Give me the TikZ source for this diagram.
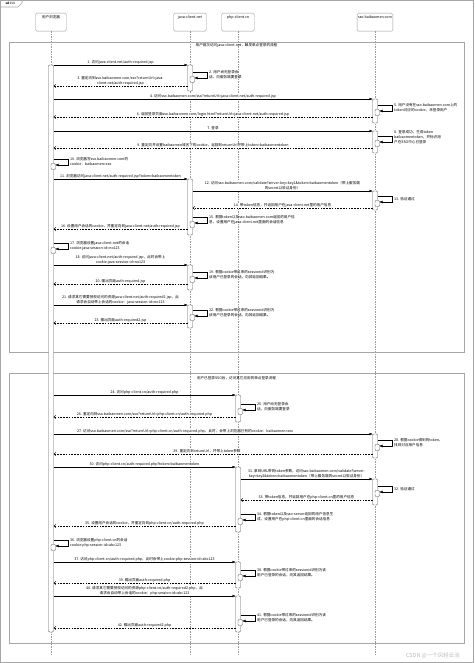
\documentclass[tikz,border=0pt]{standalone}
\usepackage{fontspec}
\setmainfont{Noto Sans CJK SC}
\usepackage{xcolor}
\usepackage{tikz}
\usetikzlibrary{arrows.meta}

\begin{document}
\begin{tikzpicture}[x=1pt, y=-1pt, font=\fontsize{3.6}{5}\selectfont,
  head/.style={draw=gray!80, rounded corners=1.5pt, fill=white, anchor=north, minimum height=18pt, text height=3pt, text depth=11pt, inner ysep=2pt, inner xsep=1pt},
  life/.style={gray!80, line width=0.4pt, dash pattern=on 1.5pt off 1pt},
  marco/.style={draw=gray!70, line width=0.6pt},
  bar/.style={draw=gray!75!black, fill=white, rounded corners=1pt, line width=0.4pt},
  msg/.style={-{Triangle[length=3pt, width=2.4pt]}, line width=0.45pt},
  ret/.style={-{Straight Barb[length=2pt, width=3.2pt]}, line width=0.45pt, dash pattern=on 1.6pt off 1.2pt},
  lbl/.style={midway, anchor=south, fill=white, inner sep=0.5pt, align=center},
  note/.style={pos=0.25, anchor=west, xshift=2pt, inner sep=0pt, align=left}]
\useasboundingbox (0,0) rectangle (474,663);
% diagram frame
\draw[marco] (0.3,0.3) rectangle (473.7,662.7);
\draw[marco] (0,7) -- (18,7) -- (22,3) -- (22,0);
\node[font=\fontsize{3}{4}\selectfont] (sd) at (10.5,3.6) {\textbf{sd} SSO};
% participants
\node[head, minimum width=31pt] (nav) at (51,13) {用户浏览器};
\node[head, minimum width=33pt] (java) at (190,13) {java-client.net};
\node[head, minimum width=33pt] (php) at (238,13) {php-client.cn};
\node[head, minimum width=31pt] (sso) at (375,13) {sso.baibaomen.com};
\coordinate (navend) at (51,655); \coordinate (javaend) at (190,655);
\coordinate (phpend) at (238,655); \coordinate (ssoend) at (375,655);
\draw[life] (nav) -- (navend); \draw[life] (java) -- (javaend);
\draw[life] (php) -- (phpend); \draw[life] (sso) -- (ssoend);
% fragments
\draw[marco] (9,42) rectangle (464,352);
\node (f1) at (236.5,45.5) {用户首次访问java-client.net，触发单点登录的流程};
\draw[marco] (9,373) rectangle (464,643);
\node (f2) at (236.5,378.5) {用户已登录SSO后，访问其它应用的单点登录流程};
% activations
\draw[bar] (48.5,65) rectangle (53.5,632);
\draw[bar] (187.5,65) rectangle (192.5,91);
\draw[bar] (187.5,179) rectangle (192.5,235);
\draw[bar] (187.5,265) rectangle (192.5,290);
\draw[bar] (187.5,305) rectangle (192.5,328);
\draw[bar] (372.5,99) rectangle (377.5,123);
\draw[bar] (372.5,131) rectangle (377.5,153);
\draw[bar] (372.5,191) rectangle (377.5,210);
\draw[bar] (235.5,395) rectangle (240.5,422);
\draw[bar] (372.5,434) rectangle (377.5,458);
\draw[bar] (235.5,467) rectangle (240.5,532);
\draw[bar] (372.5,479) rectangle (377.5,505);
\draw[bar] (235.5,562) rectangle (240.5,588);
\draw[bar] (235.5,596) rectangle (240.5,632);
% nested activations of self calls
\draw[bar] (190,76.5) rectangle (194.5,82.5);
\draw[bar] (375,109.5) rectangle (379.5,115.5);
\draw[bar] (375,140.5) rectangle (379.5,146.5);
\draw[bar] (51,163.5) rectangle (55.5,169.5);
\draw[bar] (375,200.5) rectangle (379.5,206.5);
\draw[bar] (190,221.5) rectangle (194.5,227.5);
\draw[bar] (51,247.5) rectangle (55.5,253.5);
\draw[bar] (190,276.5) rectangle (194.5,282.5);
\draw[bar] (190,314.5) rectangle (194.5,320.5);
\draw[bar] (238,408.5) rectangle (242.5,414.5);
\draw[bar] (375,444.5) rectangle (379.5,450.5);
\draw[bar] (375,490.5) rectangle (379.5,496.5);
\draw[bar] (238,518.5) rectangle (242.5,524.5);
\draw[bar] (51,544.5) rectangle (55.5,550.5);
\draw[bar] (238,574.5) rectangle (242.5,580.5);
\draw[bar] (238,619.5) rectangle (242.5,625.5);

% first visit: java-client.net
\coordinate (s1) at (53.5,65); \coordinate (t1) at (187.5,65);
\draw[msg] (s1) -- node[lbl]{1. 访问java-client.net/auth-required.jsp} (t1);
\coordinate (s2) at (192.5,72); \coordinate (t2) at (194.5,78);
\draw[msg] (s2) -- ++(14.5,0) |- node[note]{2. 用户尚无登录会\\话，向服务端要登录} (t2);
\coordinate (s3) at (187.5,86); \coordinate (t3) at (53.5,86);
\draw[ret] (s3) -- node[lbl]{3. 重定向到sso.baibaomen.com/sso?returnUrl=java-\\client.net/auth-required.jsp} (t3);
\coordinate (s4) at (53.5,99); \coordinate (t4) at (372.5,99);
\draw[msg] (s4) -- node[lbl]{4. 访问sso.baibaomen.com/sso?returnUrl=java-client.net/auth-required.jsp} (t4);
\coordinate (s5) at (377.5,105); \coordinate (t5) at (379.5,111);
\draw[msg] (s5) -- ++(14.5,0) |- node[note]{5. 用户没有在sso.baibaomen.com上的\\token对应的cookie，未登录用户} (t5);
\coordinate (s6) at (372.5,117); \coordinate (t6) at (53.5,117);
\draw[ret] (s6) -- node[lbl]{6. 返回登录页面sso.baibaomen.com/login.html?returnUrl=java-client.net/auth-required.jsp} (t6);
\coordinate (s7) at (53.5,131); \coordinate (t7) at (372.5,131);
\draw[msg] (s7) -- node[lbl]{7. 登录} (t7);
\coordinate (s8) at (377.5,136); \coordinate (t8) at (379.5,142);
\draw[msg] (s8) -- ++(14.5,0) |- node[note, yshift=2pt]{8. 登录成功，生成token\\baibaomentoken，并标识用\\户在SSO中心已登录} (t8);
\coordinate (s9) at (372.5,148); \coordinate (t9) at (53.5,148);
\draw[ret] (s9) -- node[lbl]{9. 重定向并设置baibaomen域名下的cookie，返回到returnUrl并带上token=baibaomentoken} (t9);
\coordinate (s10) at (53.5,159); \coordinate (t10) at (55.5,165);
\draw[msg] (s10) -- ++(14.5,0) |- node[note]{10. 浏览器写sso.baibaomen.com的\\cookie：baibaomen=xxx} (t10);
\coordinate (s11) at (53.5,179); \coordinate (t11) at (187.5,179);
\draw[msg] (s11) -- node[lbl]{11. 浏览器访问java-client.net/auth-required.jsp?token=baibaomentoken} (t11);
\coordinate (s12) at (192.5,191); \coordinate (t12) at (372.5,191);
\draw[msg] (s12) -- node[lbl]{12. 访问sso.baibaomen.com/validate?server-key=key1\&token=baibaomentoken（带上服务端\\的secret以验证身份）} (t12);
\coordinate (s13) at (377.5,196); \coordinate (t13) at (379.5,202);
\draw[msg] (s13) -- ++(14.5,0) |- node[note]{13. 验证通过} (t13);
\coordinate (s14) at (372.5,208); \coordinate (t14) at (192.5,208);
\draw[ret] (s14) -- node[lbl]{14. 带token信息，并返回用户在java-client.net里的用户信息} (t14);
\coordinate (s15) at (192.5,217); \coordinate (t15) at (194.5,223);
\draw[msg] (s15) -- ++(14.5,0) |- node[note]{15. 根据token以及sso.baibaomen.com返回的用户信\\息，设置用户在java-client.net里面的会话信息} (t15);
\coordinate (s16) at (187.5,229); \coordinate (t16) at (53.5,229);
\draw[ret] (s16) -- node[lbl]{16. 设置用户会话的cookie，并重定向到java-client.net/auth-required.jsp} (t16);
\coordinate (s17) at (53.5,243); \coordinate (t17) at (55.5,249);
\draw[msg] (s17) -- ++(14.5,0) |- node[note]{17. 浏览器设置java-client.net的会话\\cookie:java-session-id=no123} (t17);
\coordinate (s18) at (53.5,265); \coordinate (t18) at (187.5,265);
\draw[msg] (s18) -- node[lbl]{18. 访问java-client.net/auth-required.jsp，此时会带上\\cookie:java-session-id=no123} (t18);
\coordinate (s19) at (192.5,272); \coordinate (t19) at (194.5,278);
\draw[msg] (s19) -- ++(14.5,0) |- node[note]{19. 根据cookie带过来的sessionid识别为\\该用户已登录的会话，向其返回结果。} (t19);
\coordinate (s20) at (187.5,284); \coordinate (t20) at (53.5,284);
\draw[ret] (s20) -- node[lbl]{20. 输出页面auth-required.jsp} (t20);
\coordinate (s21) at (53.5,305); \coordinate (t21) at (187.5,305);
\draw[msg] (s21) -- node[lbl]{21. 请求其它需要授权访问的资源java-client.net/auth-required2.jsp，此\\请求会自动带上会话的cookie：java-session-id=no123} (t21);
\coordinate (s22) at (192.5,310); \coordinate (t22) at (194.5,316);
\draw[msg] (s22) -- ++(14.5,0) |- node[note]{22. 根据cookie带过来的sessionid识别为\\该用户已登录的会话，向其返回结果。} (t22);
\coordinate (s23) at (187.5,323); \coordinate (t23) at (53.5,323);
\draw[ret] (s23) -- node[lbl]{23. 输出页面auth-required2.jsp} (t23);

% second visit: php-client.cn
\coordinate (s24) at (53.5,395); \coordinate (t24) at (235.5,395);
\draw[msg] (s24) -- node[lbl]{24. 访问php-client.cn/auth-required.php} (t24);
\coordinate (s25) at (240.5,404); \coordinate (t25) at (242.5,410);
\draw[msg] (s25) -- ++(14.5,0) |- node[note]{25. 用户尚无登录会\\话，向服务端要登录} (t25);
\coordinate (s26) at (235.5,417); \coordinate (t26) at (53.5,417);
\draw[ret] (s26) -- node[lbl]{26. 重定向到sso.baibaomen.com/sso?returnUrl=php-client.cn/auth-required.php} (t26);
\coordinate (s27) at (53.5,434); \coordinate (t27) at (372.5,434);
\draw[msg] (s27) -- node[lbl, xshift=-28pt]{27. 访问sso.baibaomen.com/sso?returnUrl=php-client.cn/auth-required.php，此时，会带上浏览器已有的cookie：baibaomen=xxx} (t27);
\coordinate (s28) at (377.5,440); \coordinate (t28) at (379.5,446);
\draw[msg] (s28) -- ++(14.5,0) |- node[note]{28. 根据cookie得到的token，\\找到对应用户信息} (t28);
\coordinate (s29) at (372.5,454); \coordinate (t29) at (53.5,454);
\draw[ret] (s29) -- node[lbl, xshift=-6pt]{29. 重定向到returnUrl，并带上token参数} (t29);
\coordinate (s30) at (53.5,467); \coordinate (t30) at (235.5,467);
\draw[msg] (s30) -- node[lbl]{30. 访问php-client.cn/auth-required.php?token=baibaomentoken} (t30);
\coordinate (s31) at (240.5,479); \coordinate (t31) at (372.5,479);
\draw[msg] (s31) -- node[lbl]{31. 拿到URL带的token参数，访问sso.baibaomen.com/validate?server-\\key=key2\&token=baibaomentoken（带上服务端的secret以验证身份）} (t31);
\coordinate (s32) at (377.5,486); \coordinate (t32) at (379.5,492);
\draw[msg] (s32) -- ++(14.5,0) |- node[note]{32. 验证通过} (t32);
\coordinate (s33) at (372.5,500); \coordinate (t33) at (240.5,500);
\draw[ret] (s33) -- node[lbl]{33. 带token信息，并返回用户在php-client.cn里的用户信息} (t33);
\coordinate (s34) at (240.5,514); \coordinate (t34) at (242.5,520);
\draw[msg] (s34) -- ++(14.5,0) |- node[note]{34. 根据token以及sso-server返回的用户信息生\\成，设置用户在php-client.cn里面的会话信息} (t34);
\coordinate (s35) at (235.5,526); \coordinate (t35) at (53.5,526);
\draw[ret] (s35) -- node[lbl]{35. 设置用户会话的cookie，并重定向到php-client.cn/auth-required.php} (t35);
\coordinate (s36) at (53.5,540); \coordinate (t36) at (55.5,546);
\draw[msg] (s36) -- ++(14.5,0) |- node[note]{36. 浏览器设置php-client.cn的会话\\cookie:php-session-id=abc123} (t36);
\coordinate (s37) at (53.5,562); \coordinate (t37) at (235.5,562);
\draw[msg] (s37) -- node[lbl]{37. 访问php-client.cn/auth-required.php，此时会带上cookie:php-session-id=abc123} (t37);
\coordinate (s38) at (240.5,570); \coordinate (t38) at (242.5,576);
\draw[msg] (s38) -- ++(14.5,0) |- node[note]{38. 根据cookie带过来的sessionid识别为该\\用户已登录的会话，向其返回结果。} (t38);
\coordinate (s39) at (235.5,583); \coordinate (t39) at (53.5,583);
\draw[ret] (s39) -- node[lbl]{39. 输出页面auth-required.php} (t39);
\coordinate (s40) at (53.5,596); \coordinate (t40) at (235.5,596);
\draw[msg] (s40) -- node[lbl]{40. 请求其它需要授权访问的资源php-client.cn/auth-required2.php，此\\请求会自动带上会话的cookie：php-session-id=abc123} (t40);
\coordinate (s41) at (240.5,615); \coordinate (t41) at (242.5,621);
\draw[msg] (s41) -- ++(14.5,0) |- node[note]{41. 根据cookie带过来的sessionid识别为该\\用户已登录的会话，向其返回结果。} (t41);
\coordinate (s42) at (235.5,628); \coordinate (t42) at (53.5,628);
\draw[ret] (s42) -- node[lbl]{42. 输出页面auth-required2.php} (t42);

\node[text=gray!55, font=\fontsize{5.5}{6}\selectfont] (wm) at (433,656) {CSDN @一个风轻云淡};
\end{tikzpicture}
\end{document}
